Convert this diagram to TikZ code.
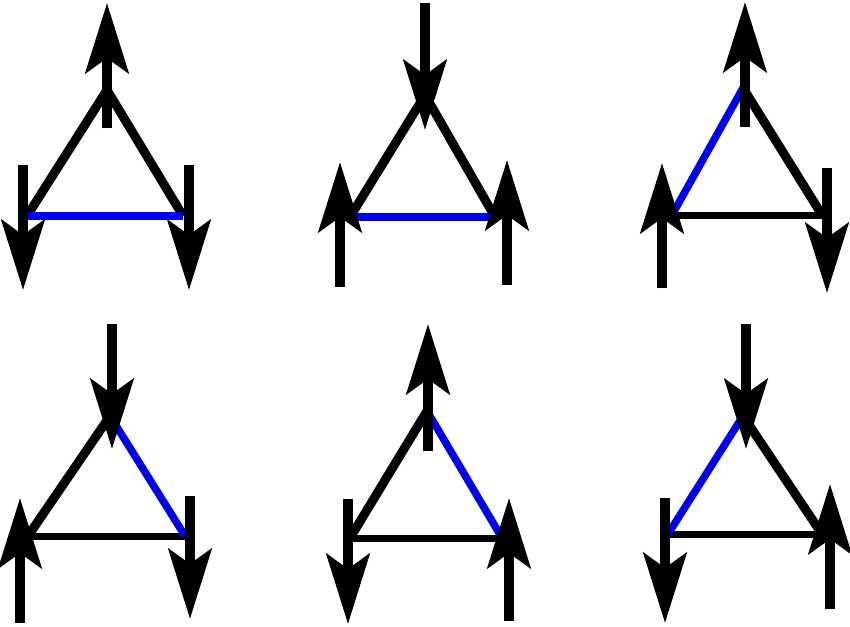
\documentclass[tikz,border=0pt]{standalone}
\usetikzlibrary{arrows.meta}
\begin{document}
\begin{tikzpicture}[x=1pt,y=-1pt,
  bond/.style={line width=9pt,line join=miter,draw=black},
  base/.style={line width=7pt,draw=black},
  hot/.style={line width=7.5pt,draw=blue!94!black},
  spin/.style={line width=10pt,draw=black,-{Stealth[length=70pt,width=43pt,inset=15pt]}}]
\useasboundingbox (0,0) rectangle (850,626);
% ---------- triangle 1 ----------
\coordinate (a1) at (107,90); \coordinate (l1) at (27,216); \coordinate (r1) at (183,216);
\coordinate (a1t) at (107,128); \coordinate (a1h) at (107,3);
\coordinate (l1t) at (23,165); \coordinate (l1h) at (23,290);
\coordinate (r1t) at (189,165); \coordinate (r1h) at (189,290);
\draw[bond] (l1) -- (a1) -- (r1);
\draw[hot] (l1) -- (r1);
\draw[spin] (a1t) -- (a1h);
\draw[spin] (l1t) -- (l1h);
\draw[spin] (r1t) -- (r1h);
% ---------- triangle 2 ----------
\coordinate (a2) at (425,95); \coordinate (l2) at (350,217); \coordinate (r2) at (495,217);
\coordinate (a2t) at (425,3); \coordinate (a2h) at (425,130);
\coordinate (l2t) at (340,287); \coordinate (l2h) at (340,162);
\coordinate (r2t) at (507,285); \coordinate (r2h) at (507,160);
\draw[bond] (l2) -- (a2) -- (r2);
\draw[hot] (l2) -- (r2);
\draw[spin] (a2t) -- (a2h);
\draw[spin] (l2t) -- (l2h);
\draw[spin] (r2t) -- (r2h);
% ---------- triangle 3 ----------
\coordinate (a3) at (743,88); \coordinate (l3) at (672,215); \coordinate (r3) at (822,215);
\coordinate (a3t) at (745,127); \coordinate (a3h) at (745,2);
\coordinate (l3t) at (662,288); \coordinate (l3h) at (662,163);
\coordinate (r3t) at (827,168); \coordinate (r3h) at (827,293);
\draw[bond] (a3) -- (r3);
\draw[base] (l3) -- (r3);
\draw[hot] (l3) -- (a3);
\draw[spin] (a3t) -- (a3h);
\draw[spin] (l3t) -- (l3h);
\draw[spin] (r3t) -- (r3h);
% ---------- triangle 4 ----------
\coordinate (a4) at (110,416); \coordinate (l4) at (28,536); \coordinate (r4) at (185,536);
\coordinate (a4t) at (112,324); \coordinate (a4h) at (112,449);
\coordinate (l4t) at (20,623); \coordinate (l4h) at (20,498);
\coordinate (r4t) at (190,496); \coordinate (r4h) at (190,619);
\draw[bond] (a4) -- (l4);
\draw[base] (l4) -- (r4);
\draw[hot] (a4) -- (r4);
\draw[spin] (a4t) -- (a4h);
\draw[spin] (l4t) -- (l4h);
\draw[spin] (r4t) -- (r4h);
% ---------- triangle 5 ----------
\coordinate (a5) at (427,411); \coordinate (l5) at (350,538); \coordinate (r5) at (502,538);
\coordinate (a5t) at (428,451); \coordinate (a5h) at (428,324);
\coordinate (l5t) at (348,499); \coordinate (l5h) at (348,624);
\coordinate (r5t) at (509,621); \coordinate (r5h) at (509,498);
\draw[bond] (a5) -- (l5);
\draw[base] (l5) -- (r5);
\draw[hot] (a5) -- (r5);
\draw[spin] (a5t) -- (a5h);
\draw[spin] (l5t) -- (l5h);
\draw[spin] (r5t) -- (r5h);
% ---------- triangle 6 ----------
\coordinate (a6) at (743,416); \coordinate (l6) at (668,534); \coordinate (r6) at (822,534);
\coordinate (a6t) at (746,324); \coordinate (a6h) at (746,449);
\coordinate (l6t) at (665,498); \coordinate (l6h) at (665,623);
\coordinate (r6t) at (830,609); \coordinate (r6h) at (830,484);
\draw[bond] (a6) -- (r6);
\draw[base] (l6) -- (r6);
\draw[hot] (l6) -- (a6);
\draw[spin] (a6t) -- (a6h);
\draw[spin] (l6t) -- (l6h);
\draw[spin] (r6t) -- (r6h);
\end{tikzpicture}
\end{document}
